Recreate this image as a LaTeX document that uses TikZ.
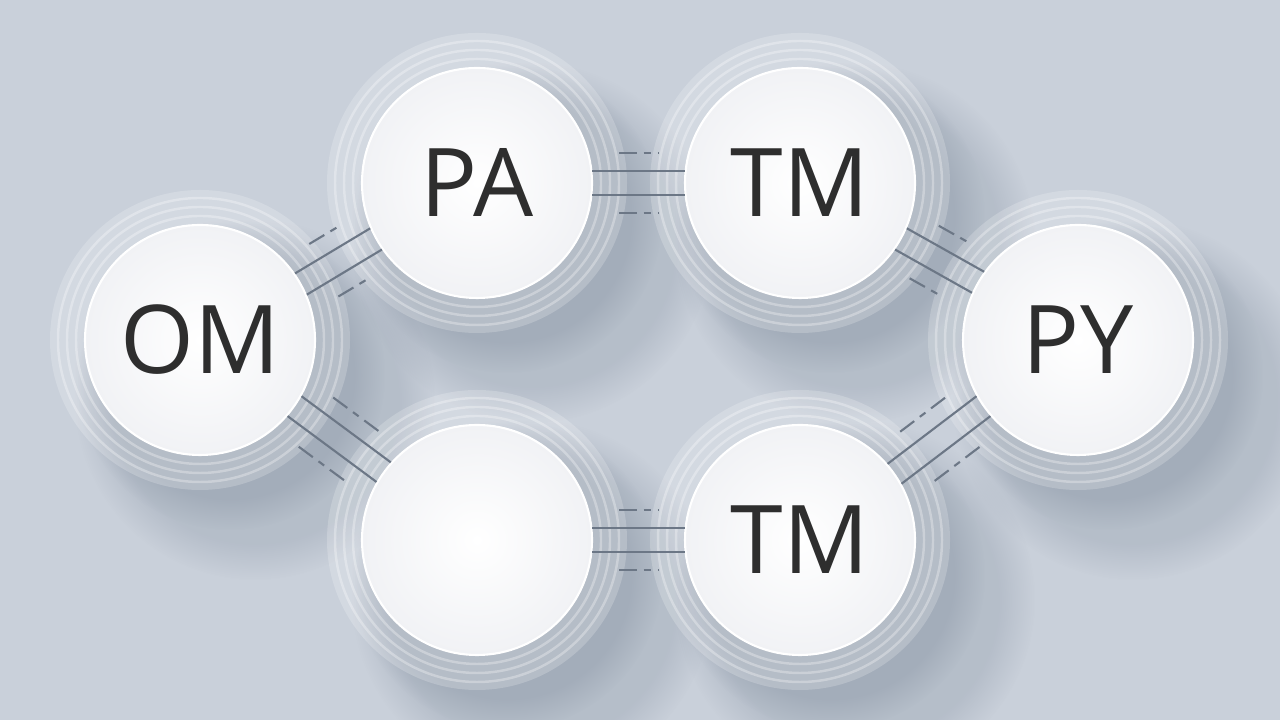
\documentclass[tikz,border=0pt]{standalone}
\usepackage{fontspec}
\setmainfont{Open Sans}
\usetikzlibrary{fadings}
\definecolor{bgcol}{HTML}{C9D0DA}
\definecolor{disccol}{HTML}{F1F2F5}
\definecolor{linkcol}{HTML}{6C7786}
\definecolor{labelcol}{HTML}{2E2E2E}
\definecolor{shadecol}{HTML}{8A95A5}
\tikzset{disc/.style = {circle, minimum size = 2.3cm, inner sep = 0,
                        inner color = white, outer color = disccol,
                        draw = white, line width = 0.6pt, text = labelcol,
                        font = \fontsize{27}{32}\selectfont}}
\tikzset{shade/.style = {fill = shadecol, fill opacity = #1,
                         path fading = circle with fuzzy edge 20 percent}}
\tikzset{ring/.style = {draw = white, opacity = 0.3, line width = 0.7pt}}
\tikzset{halo/.style = {fill = white, opacity = 0.2}}
\tikzset{link/.style = {draw = linkcol, line width = 0.6pt}}
\tikzset{dlink/.style = {link, dash pattern = on 5pt off 2pt on 2pt off 2pt,
                         shorten <= 0.3cm, shorten >= 0.3cm}}

\begin{document}
\begin{tikzpicture}
    \useasboundingbox (0, 0) rectangle (12.8, 7.2);
    \fill [bgcol] (0, 0) rectangle (12.8, 7.2);

    \coordinate (om-c) at (2.00, 3.80);
    \coordinate (pa-c) at (4.77, 5.37);
    \coordinate (tm-c) at (8.00, 5.37);
    \coordinate (py-c) at (10.78, 3.80);
    \coordinate (bl-c) at (4.77, 1.80);
    \coordinate (tb-c) at (8.00, 1.80);

    % soft shadows, then rings behind the discs
    \foreach \c in {om-c, pa-c, tm-c, py-c, bl-c, tb-c} {
        \fill [shade = 0.3] ([shift = {(0.55, -0.6)}] \c) circle (1.8);
        \fill [shade = 0.4] ([shift = {(0.3, -0.35)}] \c) circle (1.55);
    }
    \foreach \c in {om-c, pa-c, tm-c, py-c, bl-c, tb-c} {
        \fill [halo] (\c) circle (1.5);
        \foreach \r in {1.24, 1.33, 1.42}
            \draw [ring] (\c) circle (\r);
    }

    \node [disc] (om) at (om-c) {OM};
    \node [disc] (pa) at (pa-c) {PA};
    \node [disc] (tm) at (tm-c) {TM};
    \node [disc] (py) at (py-c) {PY};
    \node [disc] (bl) at (bl-c) {};
    \node [disc] (tb) at (tb-c) {TM};

    % connectors
    \foreach \a/\b/\t in {om/pa/29.5, pa/tm/0, tm/py/-29.5,
                          om/bl/-35.8, bl/tb/0, py/tb/215.7} {
        \pgfmathsetmacro{\su}{\t + 6}
        \pgfmathsetmacro{\sd}{\t - 6}
        \pgfmathsetmacro{\du}{\t + 15}
        \pgfmathsetmacro{\dd}{\t - 15}
        \pgfmathsetmacro{\eu}{\t + 174}
        \pgfmathsetmacro{\ed}{\t + 186}
        \pgfmathsetmacro{\fu}{\t + 165}
        \pgfmathsetmacro{\fd}{\t + 195}
        \draw [link] (\a.\su) -- (\b.\eu);
        \draw [link] (\a.\sd) -- (\b.\ed);
        \draw [dlink] (\a.\du) -- (\b.\fu);
        \draw [dlink] (\a.\dd) -- (\b.\fd);
    }
\end{tikzpicture}
\end{document}
